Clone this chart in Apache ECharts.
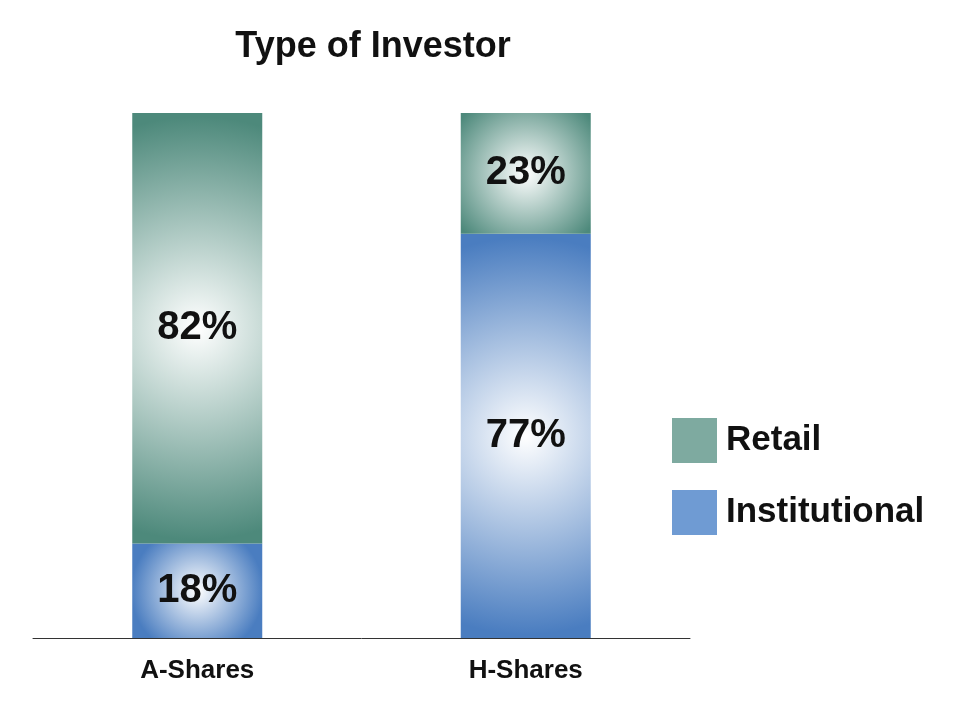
<!DOCTYPE html>
<html>
<head>
<meta charset="utf-8">
<title>Type of Investor</title>
<script src="https://cdn.jsdelivr.net/npm/echarts@6/dist/echarts.min.js"></script>
<style>
  html, body { margin: 0; padding: 0; background: #fff; }
  #chart { width: 959px; height: 725px; }
</style>
</head>
<body>
<div id="chart"></div>
<script>
var categories = ['A-Shares', 'H-Shares'];
var institutional = [18, 77];
var retail = [82, 23];

// radial fill, radius scaled by the segment's height so tall bars get a stretched glow
function radial(edge, value) {
    var r = Math.max(0.7, value * 4.3 / 130 * 0.6);
    return {
        type: 'radial', x: 0.5, y: 0.5, r: r,
        colorStops: [{ offset: 0, color: '#ffffff' }, { offset: 1, color: edge }]
    };
}

function items(values, edge) {
    return values.map(function (v) {
        return { value: v, itemStyle: { color: radial(edge, v) } };
    });
}

var font = 'Liberation Sans, Arial, Helvetica, sans-serif';
var labelStyle = { show: true, position: 'inside', formatter: '{c}%', fontFamily: font, fontSize: 40, fontWeight: 'bold', color: '#111' };
var chart = echarts.init(document.getElementById('chart'));
chart.setOption({
    animation: false,
    title: {
        text: 'Type of Investor', left: 368, top: 24, textAlign: 'center',
        textStyle: { fontFamily: font, fontSize: 36, fontWeight: 'bold', color: '#111' }
    },
    legend: {
        data: ['Retail', 'Institutional'],
        orient: 'vertical', left: 667, top: 413,
        itemWidth: 45, itemHeight: 45, itemGap: 27,
        icon: 'rect',
        textStyle: { fontFamily: font, fontSize: 35, fontWeight: 'bold', color: '#111', padding: [0, 0, 0, 4] }
    },
    grid: { left: 33, right: 269, top: 113, bottom: 87 },
    xAxis: {
        type: 'category', data: categories,
        axisTick: { show: false },
        axisLine: { lineStyle: { color: '#333', width: 1 } },
        axisLabel: { fontFamily: font, fontSize: 26, fontWeight: 'bold', color: '#111', margin: 20 }
    },
    yAxis: { type: 'value', min: 0, max: 100, show: false, splitLine: { show: false } },
    series: [
        {
            name: 'Institutional', type: 'bar', stack: 'all', data: items(institutional, '#4a7dc0'),
            barWidth: 130, itemStyle: { color: '#6f9bd3' }, label: labelStyle
        },
        {
            name: 'Retail', type: 'bar', stack: 'all', data: items(retail, '#4d897b'),
            barWidth: 130, itemStyle: { color: '#7eaaa0' }, label: labelStyle
        }
    ]
});
</script>
</body>
</html>
